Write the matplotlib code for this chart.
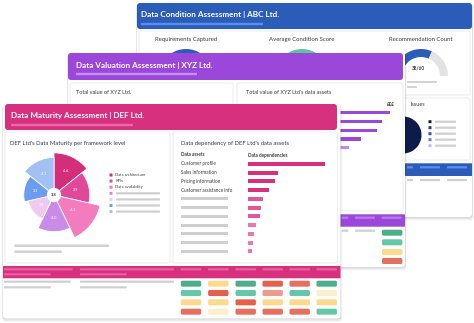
import numpy as np
import matplotlib.pyplot as plt
from matplotlib.patches import FancyBboxPatch, Wedge

plt.rcParams['font.family'] = ['Lato', 'DejaVu Sans']

W, H = 474, 323

# ---- data ----
abc_title = "Data Condition Assessment | ABC Ltd."
gauge_labels = ["Requirements Captured", "Average Condition Score", "Recommendation Count"]
gauge_values = [0.8, 0.75, 38 / 60]
recommendation_text = "38/60"
issues_shares = [56, 14, 12, 10, 8]

xyz_title = "Data Valuation Assessment | XYZ Ltd."
xyz_subtitles = ["Total value of XYZ Ltd.", "Total value of XYZ Ltd's data assets"]
asset_values = [140, 132, 127, 111, 99]
xyz_status = ["good", "ok", "fair", "weak"]

def_title = "Data Maturity Assessment | DEF Ltd."
maturity_levels = [4.6, 3.9, 4.3, 4.0, 2.9, 3.3, 4.1]
maturity_names = ["Data architecture", "KPIs", "Data availability"]
maturity_overall = 3.8
dep_assets = ["Customer profile", "Sales information", "Pricing information",
              "Customer assistance info"]
dep_values = [77, 30, 27, 21, 15, 13, 12, 8, 6, 4.5, 3.5]
status_grid = [
    ["good", "fair", "good", "poor", "weak", "good"],
    ["ok", "poor", "ok", "low", "ok", "none"],
    ["fair", "fair", "poor", "fair", "fair", "fair"],
    ["weak", "none", "weak", "weak", "weak", "ok"],
]

# ---- styles ----
BLUE, PURPLE, PINK = "#2b5cb8", "#9b47d9", "#d6307f"
TXT, GREY = "#3a3a3a", "#cfcfcf"
status_colors = {"good": "#4dae8b", "ok": "#65c6a9", "fair": "#fbd98e", "poor": "#e65f4d",
                 "weak": "#e4705f", "low": "#f09a8e", "none": "#fdefcb"}
wedge_colors = ["#d42e7b", "#e2489a", "#f27cbd", "#c98be6", "#efc9ef", "#6b9cf2", "#a3c0f5"]
issue_colors = ["#0d1b4c", "#1a3a8a", "#2b56c0", "#4f80e0", "#a9c4f5"]

fig = plt.figure(figsize=(W / 100, H / 100), dpi=100)
fig.patch.set_facecolor("white")


def layer(z):
    ax = fig.add_axes([0, 0, 1, 1], zorder=z)
    ax.set_xlim(0, W)
    ax.set_ylim(H, 0)
    ax.axis('off')
    return ax


def inset(x, y, w, h, z, **kw):
    return fig.add_axes([x / W, 1 - (y + h) / H, w / W, h / H], zorder=z, **kw)


def rrect(ax, x, y, w, h, fc, r=1.2, ec='none', lw=0, alpha=1):
    ax.add_patch(FancyBboxPatch((x, y), w, h, boxstyle=f"round,pad=0,rounding_size={r}",
                                fc=fc, ec=ec, lw=lw, alpha=alpha))


def bar(ax, x0, x1, y, color=GREY, h=2.0):
    rrect(ax, x0, y - h / 2, x1 - x0, h, color, r=0.6)


def card(ax, x, y, w, h):
    for i, a in enumerate([0.07, 0.06, 0.05]):
        rrect(ax, x - 0.5, y + 0.5 + i * 0.8, w + 1 + i * 0.4, h + i * 0.6, "black", r=3, alpha=a)
    rrect(ax, x, y, w, h, "white", r=3)


def inner(ax, x, y, w, h):
    rrect(ax, x, y, w, h, "white", r=2, ec="#e9e9e9", lw=0.6)


def header(ax, x, y, w, h, color, under, title, tx, ty, ux0, ux1, uy):
    rrect(ax, x, y, w, h, color, r=3)
    ax.text(tx, ty, title, color="white", fontsize=5.9, fontweight="bold", va="center")
    bar(ax, ux0, ux1, uy, under, h=2.4)


def pills(ax, x, y, key):
    rrect(ax, x - 10.2, y - 3, 20.4, 6, status_colors[key], r=1.6)


# ================= ABC (back) =================
ab = layer(1)
card(ab, 137, 3, 335, 214)
header(ab, 137, 3, 335, 26, BLUE, "#5b8cf0", abc_title, 141, 14.5, 141, 263, 24)
inner(ab, 139, 31, 331, 64)
inner(ab, 139, 98, 331, 62)
for cx, lab, v in zip([186, 302, 421], gauge_labels, gauge_values):
    ab.text(cx, 39.5, lab, fontsize=4.35, color=TXT, ha="center", va="center")
    col = "#5cc4a0" if "Average" in lab else BLUE
    split = 180 + 180 * v
    ab.add_patch(Wedge((cx, 76), 27, 180, split, width=8, fc=col, ec="none"))
    ab.add_patch(Wedge((cx, 76), 27, split, 360, width=8, fc="#e3e3e3", ec="none"))
ab.text(418.5, 68, recommendation_text, fontsize=3.4, fontweight="bold", color=TXT,
        ha="center", va="center")
bar(ab, 407, 437, 82, h=1.8)
bar(ab, 407, 417, 87, h=1.8)
ab.text(411, 105, "Issues", fontsize=4.0, color=TXT, va="center")
for i, c in enumerate(issue_colors):
    rrect(ab, 428.5, 120.2 + 6 * i, 3, 3, c, r=0.4)
    bar(ab, 435, 456, 121.7 + 6 * i, h=2.2)
rrect(ab, 405, 163.3, 67, 12.7, BLUE, r=0.5)
for x0, x1 in [(407, 413), (420, 440), (447, 467)]:
    bar(ab, x0, x1, 167.3, "#5b8cf0", h=2.2)
    bar(ab, x0, x1, 180, h=2.2)

ai = inset(403 - 18.5, 135 - 18.5, 37, 37, 1.5)
ai.pie(issues_shares, colors=issue_colors, startangle=90, counterclock=False)
ai.set_xlim(-1, 1)
ai.set_ylim(-1, 1)
ai.axis('off')

# ================= XYZ (middle) =================
xy = layer(2)
card(xy, 68, 53, 337, 214)
header(xy, 68, 53, 335, 27, PURPLE, "#c790f0", xyz_title, 76, 65.5, 76, 197, 74)
inner(xy, 70, 83, 163, 128)
inner(xy, 237, 83, 166, 128)
xy.text(76, 92.3, xyz_subtitles[0], fontsize=4.0, color=TXT, va="center")
xy.text(246, 92.3, xyz_subtitles[1], fontsize=4.0, color=TXT, va="center")
xy.text(395, 104, "£££", fontsize=3.3, fontweight="bold", color=TXT, ha="right", va="center")
rrect(xy, 70, 214.3, 335, 12.4, PURPLE, r=0.5)
for x0, x1 in [(341.7, 348.3), (355, 375), (381.7, 401.7)]:
    bar(xy, x0, x1, 217.7, "#b97cec", h=2.2)
for x0, x1 in [(341.7, 348.3), (355, 375)]:
    bar(xy, x0, x1, 230.7, h=2.2)
for y, key in zip([232.7, 242.3, 252, 261], xyz_status):
    pills(xy, 392.2, y, key)

ax_assets = inset(250, 108.3, 150, 43.8, 2.5)
ax_assets.barh(range(len(asset_values)), asset_values, height=0.36,
               color=[PURPLE] * 4 + ["#c38ae8"])
ax_assets.set_xlim(0, 150)
ax_assets.set_ylim(len(asset_values) - 0.5, -0.5)
ax_assets.axis('off')

# ================= DEF (front) =================
df = layer(3)
card(df, 3, 104, 337.5, 214.5)
header(df, 5, 104, 332, 26, PINK, "#e86aa8", def_title, 11, 115.2, 11, 133, 125)
inner(df, 5, 132, 165, 131)
inner(df, 173, 132, 164.5, 131)
df.text(10, 143.3, "DEF Ltd's Data Maturity per framework level", fontsize=4.25, color=TXT,
        va="center")
df.text(181, 143.3, "Data dependency of DEF Ltd's data assets", fontsize=4.25, color=TXT,
        va="center")

# legend of the maturity chart
for i, c in enumerate(wedge_colors):
    y = 175 + 6.1 * i
    rrect(df, 109.5, y - 1.5, 3, 3, c, r=0.4)
    if i < len(maturity_names):
        df.text(115.5, y, maturity_names[i], fontsize=2.9, color=TXT, va="center")
    else:
        bar(df, 116, 160, y, h=2.2)
bar(df, 14.3, 109, 245.7, h=2.4)
bar(df, 14.3, 61.7, 251.7, h=2.4)

# dependency table headers
df.text(181, 155, "Data assets", fontsize=3.3, fontweight="bold", color=TXT, va="center")
df.text(248.3, 155, "Data dependencies", fontsize=3.3, fontweight="bold", color=TXT, va="center")

# bottom status table
rrect(df, 3, 266, 337.5, 12.3, PINK, r=0.5)
cols = [191, 218.3, 245.7, 272.7, 299.7, 326.7]
for x0, x1 in [(4, 72.7), (80, 174)] + [(c - 10.3, c + 10.3) for c in cols]:
    bar(df, x0, x1, 269.3, "#e85fa3", h=2.2)
for x0, x1 in [(4, 50.7), (80, 126.7)]:
    bar(df, x0, x1, 274.3, "#e85fa3", h=2.2)
bar(df, 4, 70.7, 281.7, h=2.2)
bar(df, 80, 174, 281.7, h=2.2)
bar(df, 4, 50.7, 287.3, h=2.2)
bar(df, 80, 126.7, 287.3, h=2.2)
for r, row in enumerate(status_grid):
    for c, key in zip(cols, row):
        pills(df, c, 283.7 + 9.33 * r, key)

# polar maturity chart
n = len(maturity_levels)
ap = inset(54 - 55, 195 - 55, 110, 110, 3.5, projection='polar')
ap.set_theta_zero_location('N')
ap.set_theta_direction(-1)
theta = np.arange(n) * 2 * np.pi / n
grow = np.where(np.arange(n) == 2, 1.2, 1.0)   # hovered slice
ap.bar(theta, np.array(maturity_levels) * grow, width=2 * np.pi / n, align='edge',
       color=wedge_colors, edgecolor='white', linewidth=0.6)
for t, v in zip(theta + np.pi / n, maturity_levels):
    ap.text(t, 0.62 * v, f"{v:.1f}", fontsize=2.8, color="white", ha="center", va="center")
ap.bar(0, 0.78, width=2 * np.pi, bottom=0, color="white", edgecolor="none")
ap.text(0, 0, f"{maturity_overall:.1f}", fontsize=3.0, fontweight="bold", color=TXT,
        ha="center", va="center")
ap.set_ylim(0, 6.0)
ap.axis('off')

# dependency bars
nd = len(dep_values)
ad = inset(248, 159.4, 80, 96.4, 3.5)
ad.barh(range(nd), dep_values, height=0.46,
        color=[PINK] * 4 + ["#e2569c"] * 3 + ["#e878b0"] * 4)
for i in range(nd):
    if i < len(dep_assets):
        ad.text(-67, i, dep_assets[i], fontsize=3.35, color=TXT, va="center")
    else:
        ad.barh(i, 47, left=-67, height=0.34, color=GREY, clip_on=False)
ad.set_xlim(0, 80)
ad.set_ylim(nd - 0.5, -0.5)
ad.axis('off')

fig.savefig("out.png", dpi=100, facecolor="white")
